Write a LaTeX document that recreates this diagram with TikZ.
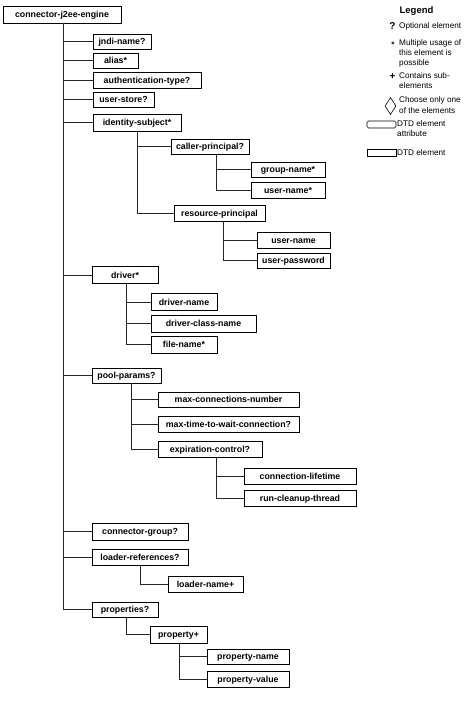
\documentclass[tikz,border=0pt]{standalone}
\usepackage{fontspec}
\setmainfont{Liberation Sans}
\usetikzlibrary{shapes.geometric}
\tikzset{
  box/.style={draw=black, line width=0.9pt, fill=white, inner sep=0pt, text height=6.8pt, text depth=0pt, font=\fontsize{8.8}{10}\selectfont\bfseries},
  conn/.style={draw=black!85, line width=0.9pt},
  legtext/.style={anchor=base west, inner sep=0pt, font=\fontsize{8.2}{10}\selectfont},
  legsym/.style={inner sep=0pt, font=\fontsize{10}{10}\selectfont\bfseries},
}
\newcommand{\bx}[6]{\node[box, minimum width=#4, minimum height=#5] (#1) at (#2,#3) {#6};}
\begin{document}
\begin{tikzpicture}[x=1pt,y=-1pt]
\useasboundingbox (0,0) rectangle (474,711);
\bx{root}{62}{14.5}{118}{17}{connector-j2ee-engine}
\bx{jndi}{122}{41.5}{58}{15}{jndi-name?}
\bx{alias}{115.5}{60.5}{45}{15}{alias*}
\bx{auth}{147}{80}{108}{16}{authentication-type?}
\bx{ustore}{123.5}{99.5}{61}{15}{user-store?}
\bx{ident}{137}{122.5}{88}{17}{identity-subject*}
\bx{caller}{210}{146.5}{78}{15}{caller-principal?}
\bx{group}{288}{169.5}{74}{15}{group-name*}
\bx{unameA}{288}{190}{74}{16}{user-name*}
\bx{resp}{219.5}{213}{91}{16}{resource-principal}
\bx{unameB}{293.5}{240}{73}{16}{user-name}
\bx{upass}{293.5}{260.5}{73}{15}{user-password}
\bx{driver}{125}{275}{66}{17}{driver*}
\bx{dname}{184}{302}{66}{17}{driver-name}
\bx{dclass}{203.5}{323.5}{105}{17}{driver-class-name}
\bx{fname}{184}{344.5}{66}{17}{file-name*}
\bx{pool}{126.5}{375.5}{69}{15}{pool-params?}
\bx{maxc}{228.5}{399.5}{141}{15}{max-connections-number}
\bx{maxt}{228.5}{424}{141}{16}{max-time-to-wait-connection?}
\bx{exp}{210}{449}{104}{16}{expiration-control?}
\bx{clife}{300}{476}{112}{16}{connection-lifetime}
\bx{runc}{300}{498}{112}{16}{run-cleanup-thread}
\bx{cgroup}{140}{531.5}{96}{17}{connector-group?}
\bx{loadr}{140}{557}{96}{16}{loader-references?}
\bx{lname}{205.5}{584}{75}{16}{loader-name+}
\bx{props}{125}{609.5}{66}{15}{properties?}
\bx{prop}{178.5}{634.5}{57}{17}{property+}
\bx{pname}{248}{656.5}{82}{15}{property-name}
\bx{pval}{248}{679}{82}{16}{property-value}
% connectors
\foreach \c in {jndi,alias,auth,ustore,ident,driver,pool,cgroup,loadr,props}
  \draw[conn] ([xshift=1pt]root.south) |- (\c.west);
\foreach \c in {caller,resp}
  \draw[conn] (ident.south) |- (\c.west);
\foreach \c in {group,unameA}
  \draw[conn] ([xshift=6pt]caller.south) |- (\c.west);
\foreach \c in {unameB,upass}
  \draw[conn] ([xshift=3.5pt]resp.south) |- (\c.west);
\foreach \c in {dname,dclass,fname}
  \draw[conn] ([xshift=1pt]driver.south) |- (\c.west);
\foreach \c in {maxc,maxt,exp}
  \draw[conn] ([xshift=4.5pt]pool.south) |- (\c.west);
\foreach \c in {clife,runc}
  \draw[conn] ([xshift=6pt]exp.south) |- (\c.west);
\draw[conn] (loadr.south) |- (lname.west);
\draw[conn] ([xshift=1pt]props.south) |- (prop.west);
\foreach \c in {pname,pval}
  \draw[conn] ([xshift=0.5pt]prop.south) |- (\c.west);
% legend
\node[inner sep=0pt, font=\fontsize{9.5}{10}\selectfont\bfseries] (leg) at (416.5,11) {Legend};
\node[legsym] (lq) at (392.5,26) {?};
\node[legtext] (lqa) at (399,28.5) {Optional element};
\node[inner sep=0pt, font=\fontsize{8}{10}\selectfont\bfseries] (ls) at (393,45) {*};
\node[legtext] (lsa) at (399,46) {Multiple usage of};
\node[legtext] (lsb) at (399,56) {this element is};
\node[legtext] (lsc) at (399,66) {possible};
\node[legsym] (lp) at (392.5,76.5) {+};
\node[legtext] (lpa) at (399,79) {Contains sub-};
\node[legtext] (lpb) at (399,89) {elements};
\node[draw=black, line width=0.6pt, diamond, minimum width=11pt, minimum height=17pt, inner sep=0pt] (ld) at (390.5,106) {};
\node[legtext] (lda) at (399,103) {Choose only one};
\node[legtext] (ldb) at (399,113.5) {of the elements};
\draw[line width=0.6pt, rounded corners=1.5pt] (367,121) rectangle (396,128);
\node[legtext] (lra) at (397,127) {DTD element};
\node[legtext] (lrb) at (397,137) {attribute};
\draw[line width=0.6pt] (367,149) rectangle (396,156);
\node[legtext] (lba) at (397,156) {DTD element};
\end{tikzpicture}
\end{document}
